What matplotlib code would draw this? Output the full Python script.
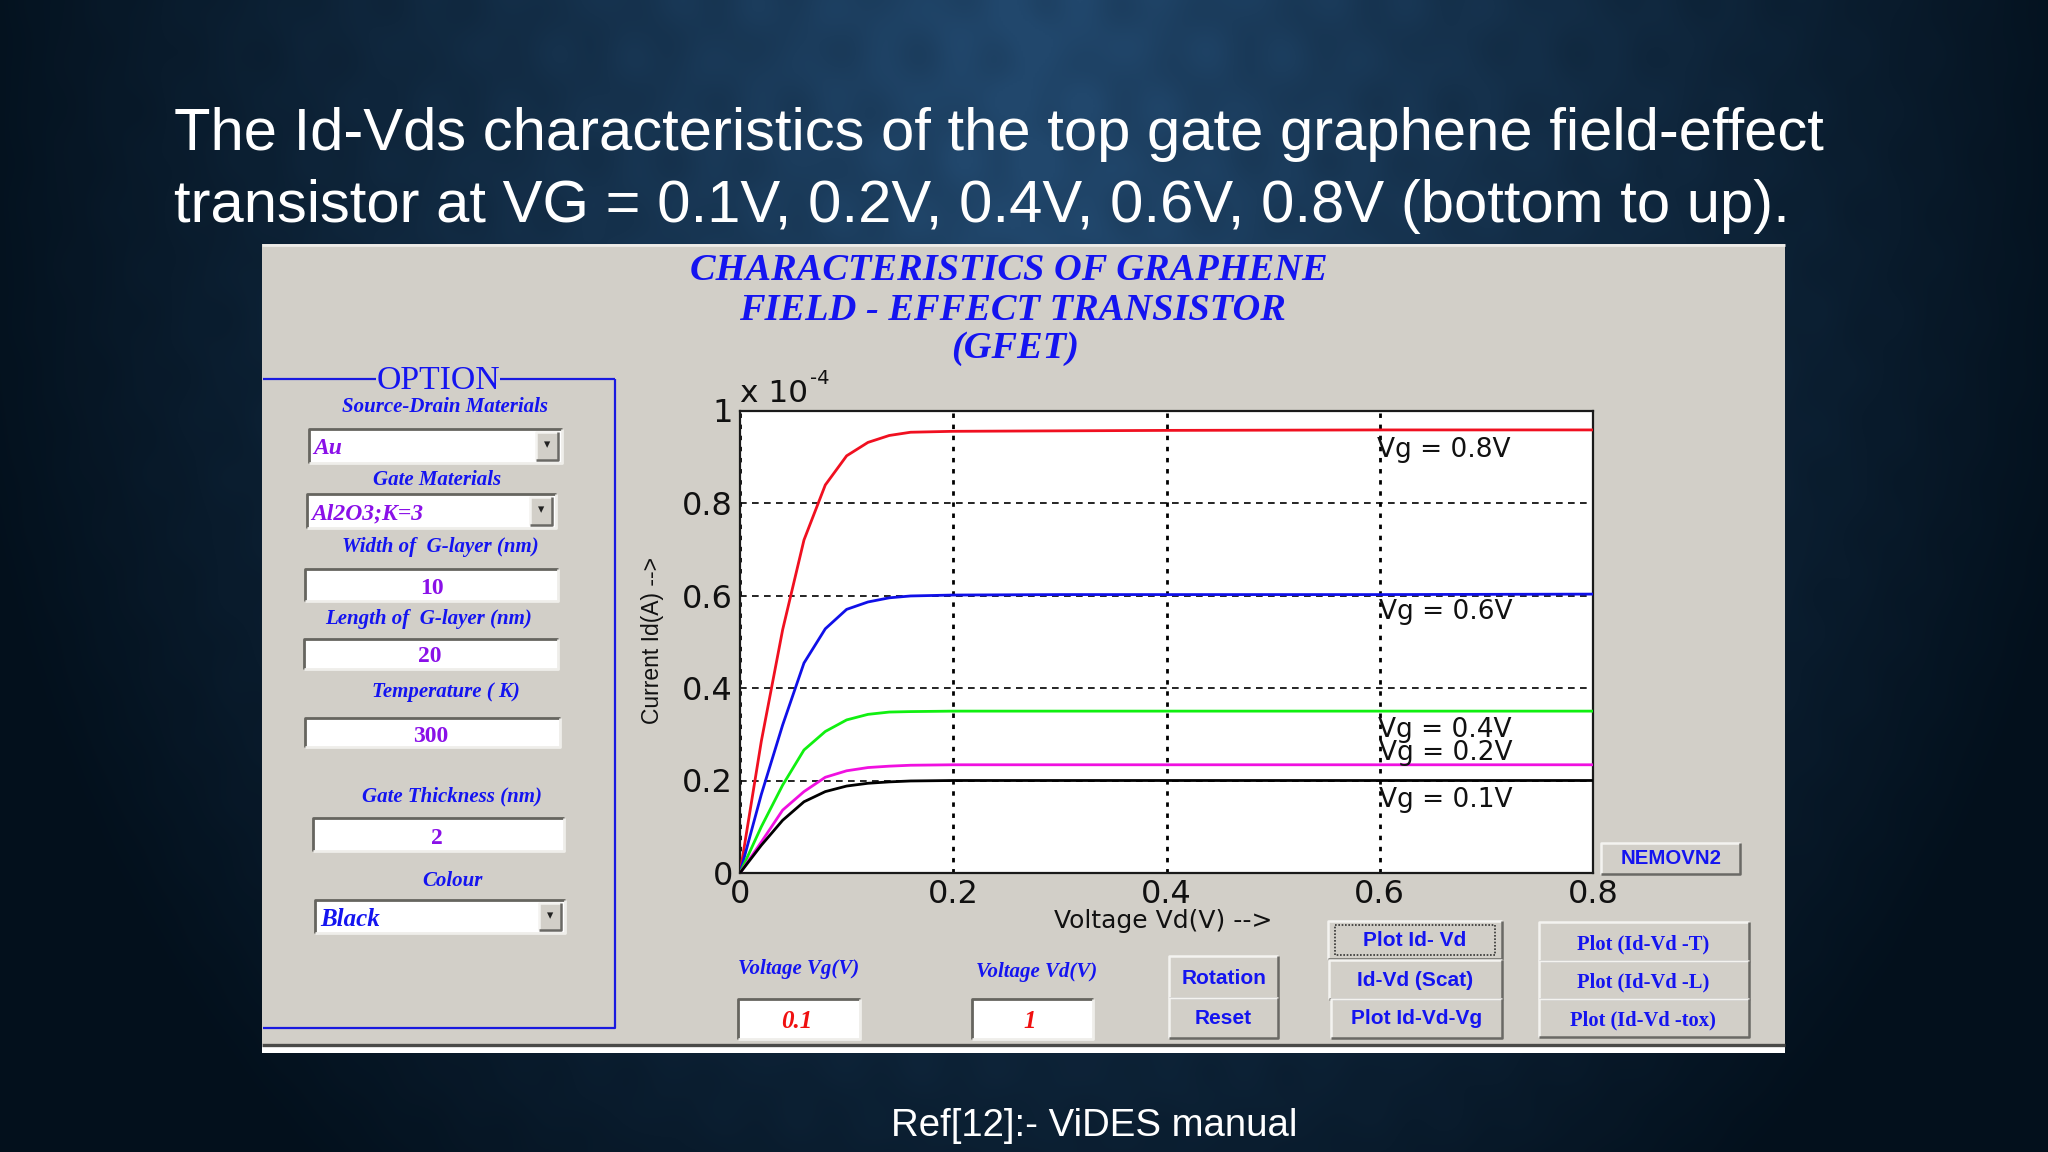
import numpy as np
import matplotlib
matplotlib.use("Agg")
import matplotlib.pyplot as plt
from matplotlib.patches import Rectangle

W, H = 2048, 1152
vd = [0, 0.02, 0.04, 0.06, 0.08, 0.10, 0.12, 0.14, 0.16, 0.20, 0.30, 0.40, 0.60, 0.80]
id_08 = [0, 0.285, 0.526, 0.72, 0.839, 0.902, 0.931, 0.946, 0.953, 0.955, 0.956, 0.957, 0.958, 0.958]
id_06 = [0, 0.17, 0.32, 0.454, 0.528, 0.57, 0.586, 0.595, 0.599, 0.601, 0.602, 0.602, 0.602, 0.603]
id_04 = [0, 0.10, 0.19, 0.266, 0.306, 0.331, 0.343, 0.348, 0.349, 0.350, 0.350, 0.350, 0.350, 0.350]
id_02 = [0, 0.067, 0.136, 0.176, 0.207, 0.221, 0.228, 0.231, 0.233, 0.234, 0.234, 0.234, 0.234, 0.234]
id_01 = [0, 0.06, 0.114, 0.154, 0.176, 0.188, 0.194, 0.197, 0.199, 0.200, 0.200, 0.200, 0.200, 0.200]
series = [(id_08, '#f01020', 'Vg = 0.8V'), (id_06, '#1010e8', 'Vg = 0.6V'), (id_04, '#10f010', 'Vg = 0.4V'),
          (id_02, '#f010e0', 'Vg = 0.2V'), (id_01, '#000000', 'Vg = 0.1V')]
xticks = [0, 0.2, 0.4, 0.6, 0.8]
xticklabels = ['0', '0.2', '0.4', '0.6', '0.8']
yticks = [0, 0.2, 0.4, 0.6, 0.8, 1]
yticklabels = ['0', '0.2', '0.4', '0.6', '0.8', '1']

SANS = 'Liberation Sans'
SERIF = 'Liberation Serif'
BLUE = '#1414f0'
PURPLE = '#8a10e8'
PANEL = '#d2cfc8'

fig = plt.figure(figsize=(W/100, H/100), dpi=100)
bg = fig.add_axes([0, 0, 1, 1])
bg.set_xlim(0, W); bg.set_ylim(H, 0); bg.axis('off')

# slide background: dark navy vignette with a faint damask-like weave
yy, xx = np.mgrid[0:H:2, 0:W:2]
r = np.sqrt(((xx-1030)/1080.0)**2 + (np.maximum(yy-200, 0)/1300.0)**2)
v = np.clip(1-r, 0, 1)**1.0
weave = (np.sin(xx/13.0)*np.cos(yy/17.0) + 0.7*np.sin((xx+yy)/23.0)*np.sin((xx-yy)/19.0))
v = np.clip(v*(1+0.05*weave), 0, 1)
c0 = np.array([0x03, 0x10, 0x1c])/255
c1 = np.array([0x21, 0x47, 0x6c])/255
img = c0 + (c1-c0)*v[..., None]
bg.imshow(img, extent=[0, W, H, 0], aspect='auto', interpolation='bilinear', zorder=0)

def T(x, y, s, size, color='k', fam=SANS, weight='normal', style='normal', ha='center', z=5):
    return bg.text(x, y, s, fontsize=size, color=color, family=fam, weight=weight, style=style,
                   ha=ha, va='center', zorder=z)

def R(x0, y0, x1, y1, color, z=2):
    bg.add_patch(Rectangle((x0, y0), x1-x0, y1-y0, fc=color, ec='none', zorder=z))

def L(xs, ys, color, lw=1.5, z=3, **kw):
    bg.plot(xs, ys, color=color, lw=lw, zorder=z, solid_capstyle='butt', **kw)

def sunken(x0, y0, x1, y1):
    R(x0, y0, x1, y1, 'white', 3)
    L([x0, x0, x1], [y1, y0, y0], '#66655f', 2.0, 4)
    L([x0, x1, x1], [y1, y1, y0], '#efeeea', 2.0, 4)

def raised(x0, y0, x1, y1):
    R(x0, y0, x1, y1, PANEL, 3)
    L([x0, x0, x1], [y1, y0, y0], '#f4f3f0', 1.8, 4)
    L([x0, x1, x1], [y1, y1, y0], '#6a6965', 1.8, 4)

# slide text
T(174, 134, 'The Id-Vds characteristics of the top gate graphene field-effect', 43, 'white', ha='left')
T(174, 206, 'transistor at VG = 0.1V, 0.2V, 0.4V, 0.6V, 0.8V (bottom to up).', 43, 'white', ha='left')
T(1094, 1126, 'Ref[12]:- ViDES manual', 27.6, 'white')

# GUI panel
R(262, 244, 1785, 1053, 'white', 1)
R(262, 244, 1785, 1044, PANEL, 2)
L([262, 1785], [245, 245], '#eeece8', 2)
L([262, 1785], [1044.5, 1044.5], '#4a4a48', 2.4)

for s, x, y in [('CHARACTERISTICS OF GRAPHENE', 1009, 271), ('FIELD - EFFECT TRANSISTOR', 1012, 310), ('(GFET)', 1015, 349)]:
    T(x, y, s, 27.6, BLUE, SERIF, 'bold', 'italic')

# option frame
L([263, 376], [379, 379], '#1a1ae0', 1.6)
L([500, 615], [379, 379], '#1a1ae0', 1.6)
L([615, 615, 263], [379, 1028, 1028], '#1a1ae0', 1.6)
T(438, 381, 'OPTION', 24.3, BLUE, SERIF)

for x, y, s in [(445, 407, 'Source-Drain Materials'), (437, 480, 'Gate Materials'),
                (440, 547, 'Width of  G-layer (nm)'), (429, 619, 'Length of  G-layer (nm)'),
                (446, 692, 'Temperature ( K)'), (452, 796, 'Gate Thickness (nm)'), (452, 881, 'Colour'),
                (799, 969, 'Voltage Vg(V)'), (1037, 972, 'Voltage Vd(V)')]:
    T(x, y, s, 15, BLUE, SERIF, 'bold', 'italic')

for b in [(309, 429, 562, 463), (307, 494, 556, 528), (315, 900, 565, 933)]:
    sunken(*b)
    ax0 = b[2]-26
    raised(ax0, b[1]+3, b[2]-4, b[3]-3)
    T(ax0+11, (b[1]+b[3])/2-1, '\u25be', 9, '#222222', 'DejaVu Sans')
for b in [(305, 569, 558, 601), (304, 639, 558, 669), (305, 718, 560, 747), (313, 818, 564, 851),
          (738, 999, 860, 1039), (972, 999, 1093, 1039)]:
    sunken(*b)

T(313, 449, 'Au', 17, PURPLE, SERIF, 'bold', 'italic', ha='left')
T(311, 514, 'Al2O3;K=3', 17, PURPLE, SERIF, 'bold', 'italic', ha='left')
T(320, 919, 'Black', 18, BLUE, SERIF, 'bold', 'italic', ha='left')
for x, y, s in [(432, 588, '10'), (430, 657, '20'), (431, 736, '300'), (437, 838, '2')]:
    T(x, y, s, 17, PURPLE, SERIF, 'bold')
T(797, 1022, '0.1', 18, '#f01010', SERIF, 'bold', 'italic')
T(1030, 1022, '1', 18, '#f01010', SERIF, 'bold', 'italic')

# buttons
raised(1601, 843, 1740, 874); T(1671, 858, 'NEMOVN2', 14.7, BLUE, SANS, 'bold')
raised(1328, 921, 1502, 959); T(1415, 941, 'Plot Id- Vd', 15, BLUE, SANS, 'bold')
bg.add_patch(Rectangle((1335, 925), 160, 30, fc='none', ec='#333333', lw=1.2, ls=(0, (1, 1)), zorder=5))
raised(1329, 960, 1502, 999); T(1415, 980, 'Id-Vd (Scat)', 15, BLUE, SANS, 'bold')
raised(1331, 999, 1502, 1038); T(1417, 1019, 'Plot Id-Vd-Vg', 15, BLUE, SANS, 'bold')
raised(1539, 922, 1749, 961); T(1643, 944, 'Plot (Id-Vd -T)', 14.8, BLUE, SERIF, 'bold')
raised(1539, 961, 1749, 999); T(1643, 982, 'Plot (Id-Vd -L)', 14.8, BLUE, SERIF, 'bold')
raised(1539, 999, 1749, 1037); T(1643, 1020, 'Plot (Id-Vd -tox)', 14.8, BLUE, SERIF, 'bold')
raised(1169, 956, 1278, 998); T(1224, 979, 'Rotation', 15, BLUE, SANS, 'bold')
raised(1169, 998, 1278, 1038); T(1223, 1019, 'Reset', 15, BLUE, SANS, 'bold')

# the plot
AL, AR, AT, AB = 740, 1593, 410.5, 873
ax = fig.add_axes([AL/W, 1-AB/H, (AR-AL)/W, (AB-AT)/H], zorder=3)
ax.set_xlim(0, 0.8); ax.set_ylim(0, 1)
ax.set_facecolor('white')
for s in ax.spines.values():
    s.set_linewidth(1.6); s.set_color('#1a1a1a')
ax.set_xticks(xticks); ax.set_xticklabels(xticklabels, family='DejaVu Sans', fontsize=23)
ax.set_yticks(yticks); ax.set_yticklabels(yticklabels, family='DejaVu Sans', fontsize=23)
ax.tick_params(axis='x', length=0, pad=4, colors='#111111')
ax.tick_params(axis='y', length=0, pad=5, colors='#111111')
ax.xaxis.grid(True, color='k', lw=2.0, ls=(0, (1.6, 2.4)))
ax.yaxis.grid(True, color='k', lw=1.2, ls=(0, (4, 3.2)))
ax.set_axisbelow(True)
for ys, c, lab in series:
    ax.plot(vd, ys, color=c, lw=2.0, solid_joinstyle='round', zorder=3)
for lab, x, y in [('Vg = 0.8V', 0.597, 0.914), ('Vg = 0.6V', 0.599, 0.564), ('Vg = 0.4V', 0.598, 0.310),
                  ('Vg = 0.2V', 0.599, 0.260), ('Vg = 0.1V', 0.599, 0.158)]:
    ax.text(x, y, lab, fontsize=19, family='DejaVu Sans', color='#111111', va='center', ha='left', zorder=5)
ax.set_xlabel('Voltage Vd(V) -->', family='DejaVu Sans', fontsize=18, color='#111111')
ax.xaxis.set_label_coords((1163-AL)/(AR-AL), (AB-921)/(AB-AT), transform=ax.transAxes)
ax.xaxis.label.set_va('center')
ax.set_ylabel('Current Id(A) -->', family=SANS, fontsize=16.5, color='#111111')
ax.yaxis.set_label_coords((653-AL)/(AR-AL), (AB-640)/(AB-AT), transform=ax.transAxes)
ax.yaxis.label.set_va('center')
T(740, 393, 'x 10', 22.5, '#111111', 'DejaVu Sans', ha='left')
T(810, 378, '-4', 14, '#111111', 'DejaVu Sans', ha='left')

fig.savefig('out.png', dpi=100)
